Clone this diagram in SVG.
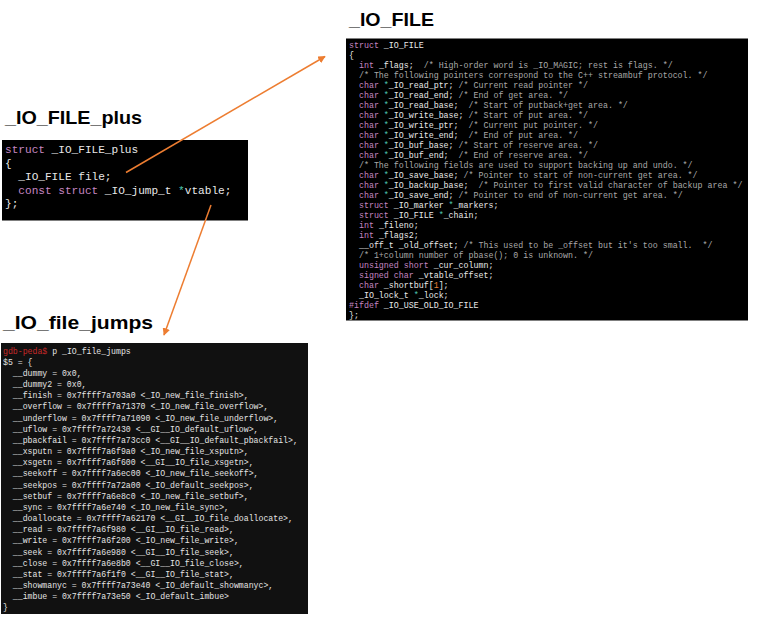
<svg xmlns="http://www.w3.org/2000/svg" width="757" height="620" viewBox="0 0 757 620">
<style>
.title{font-family:"Liberation Sans",Arial,sans-serif;font-weight:bold;font-size:18.5px;fill:#000}
.code{font-family:"Liberation Mono","DejaVu Sans Mono",monospace;white-space:pre}
.code text{white-space:pre}
.kw{fill:#c586c0}
.id{fill:#e8e8e8}
.cm{fill:#a9a9a9}
.pt{fill:#4ec9b0}
.num{fill:#e8833a}
.pr{fill:#c82828}
.conn{stroke:#ED7D31;stroke-width:1.5;fill:none}
</style>
<defs>
<marker id="ah" viewBox="0 0 10 10" refX="9" refY="5" markerWidth="5" markerHeight="5" orient="auto" markerUnits="strokeWidth">
<path d="M0,0 L10,5 L0,10 z" fill="#ED7D31"/>
</marker>
</defs>
<rect width="757" height="620" fill="#fff"/>

<g id="io_file">
<text class="title" x="349" y="26" textLength="85" lengthAdjust="spacingAndGlyphs">_IO_FILE</text>
<rect x="346" y="38.5" width="402" height="282" fill="#000"/>
<g class="code" font-size="8.3">
<text xml:space="preserve" x="349" y="48"><tspan class="kw">struct</tspan><tspan class="id"> _IO_FILE</tspan></text>
<text xml:space="preserve" x="349" y="58" class="id">{</text>
<text xml:space="preserve" x="349" y="68"><tspan class="kw">  int</tspan><tspan class="id"> _flags;</tspan><tspan class="cm">  /* High-order word is _IO_MAGIC; rest is flags. */</tspan></text>
<text xml:space="preserve" x="349" y="78" class="cm">  /* The following pointers correspond to the C++ streambuf protocol. */</text>
<text xml:space="preserve" x="349" y="88"><tspan class="kw">  char</tspan> <tspan class="pt">*</tspan><tspan class="id">_IO_read_ptr;</tspan><tspan class="cm"> /* Current read pointer */</tspan></text>
<text xml:space="preserve" x="349" y="98"><tspan class="kw">  char</tspan> <tspan class="pt">*</tspan><tspan class="id">_IO_read_end;</tspan><tspan class="cm"> /* End of get area. */</tspan></text>
<text xml:space="preserve" x="349" y="108"><tspan class="kw">  char</tspan> <tspan class="pt">*</tspan><tspan class="id">_IO_read_base;</tspan><tspan class="cm">  /* Start of putback+get area. */</tspan></text>
<text xml:space="preserve" x="349" y="118"><tspan class="kw">  char</tspan> <tspan class="pt">*</tspan><tspan class="id">_IO_write_base;</tspan><tspan class="cm"> /* Start of put area. */</tspan></text>
<text xml:space="preserve" x="349" y="128"><tspan class="kw">  char</tspan> <tspan class="pt">*</tspan><tspan class="id">_IO_write_ptr;</tspan><tspan class="cm">  /* Current put pointer. */</tspan></text>
<text xml:space="preserve" x="349" y="138"><tspan class="kw">  char</tspan> <tspan class="pt">*</tspan><tspan class="id">_IO_write_end;</tspan><tspan class="cm">  /* End of put area. */</tspan></text>
<text xml:space="preserve" x="349" y="148"><tspan class="kw">  char</tspan> <tspan class="pt">*</tspan><tspan class="id">_IO_buf_base;</tspan><tspan class="cm"> /* Start of reserve area. */</tspan></text>
<text xml:space="preserve" x="349" y="158"><tspan class="kw">  char</tspan> <tspan class="pt">*</tspan><tspan class="id">_IO_buf_end;</tspan><tspan class="cm">  /* End of reserve area. */</tspan></text>
<text xml:space="preserve" x="349" y="168" class="cm">  /* The following fields are used to support backing up and undo. */</text>
<text xml:space="preserve" x="349" y="178"><tspan class="kw">  char</tspan> <tspan class="pt">*</tspan><tspan class="id">_IO_save_base;</tspan><tspan class="cm"> /* Pointer to start of non-current get area. */</tspan></text>
<text xml:space="preserve" x="349" y="188"><tspan class="kw">  char</tspan> <tspan class="pt">*</tspan><tspan class="id">_IO_backup_base;</tspan><tspan class="cm">  /* Pointer to first valid character of backup area */</tspan></text>
<text xml:space="preserve" x="349" y="198"><tspan class="kw">  char</tspan> <tspan class="pt">*</tspan><tspan class="id">_IO_save_end;</tspan><tspan class="cm"> /* Pointer to end of non-current get area. */</tspan></text>
<text xml:space="preserve" x="349" y="208"><tspan class="kw">  struct</tspan><tspan class="id"> _IO_marker </tspan><tspan class="pt">*</tspan><tspan class="id">_markers;</tspan></text>
<text xml:space="preserve" x="349" y="218"><tspan class="kw">  struct</tspan><tspan class="id"> _IO_FILE </tspan><tspan class="pt">*</tspan><tspan class="id">_chain;</tspan></text>
<text xml:space="preserve" x="349" y="228"><tspan class="kw">  int</tspan><tspan class="id"> _fileno;</tspan></text>
<text xml:space="preserve" x="349" y="238"><tspan class="kw">  int</tspan><tspan class="id"> _flags2;</tspan></text>
<text xml:space="preserve" x="349" y="248"><tspan class="id">  __off_t _old_offset;</tspan><tspan class="cm"> /* This used to be _offset but it's too small.  */</tspan></text>
<text xml:space="preserve" x="349" y="258" class="cm">  /* 1+column number of pbase(); 0 is unknown. */</text>
<text xml:space="preserve" x="349" y="268"><tspan class="kw">  unsigned short</tspan><tspan class="id"> _cur_column;</tspan></text>
<text xml:space="preserve" x="349" y="278"><tspan class="kw">  signed char</tspan><tspan class="id"> _vtable_offset;</tspan></text>
<text xml:space="preserve" x="349" y="288"><tspan class="kw">  char</tspan><tspan class="id"> _shortbuf[</tspan><tspan class="num">1</tspan><tspan class="id">];</tspan></text>
<text xml:space="preserve" x="349" y="298"><tspan class="id">  _IO_lock_t </tspan><tspan class="pt">*</tspan><tspan class="id">_lock;</tspan></text>
<text xml:space="preserve" x="349" y="308"><tspan class="kw">#ifdef</tspan><tspan class="id"> _IO_USE_OLD_IO_FILE</tspan></text>
<text xml:space="preserve" x="349" y="318" class="id">};</text>
</g>
</g>

<g id="io_file_plus">
<text class="title" x="5" y="124" textLength="137" lengthAdjust="spacingAndGlyphs">_IO_FILE_plus</text>
<rect x="2" y="140" width="246" height="80.5" fill="#000"/>
<g class="code" font-size="11.1">
<text xml:space="preserve" x="5" y="153"><tspan class="kw">struct</tspan><tspan class="id"> _IO_FILE_plus</tspan></text>
<text xml:space="preserve" x="5" y="166.5" class="id">{</text>
<text xml:space="preserve" x="5" y="180" class="id">  _IO_FILE file;</text>
<text xml:space="preserve" x="5" y="193.5"><tspan class="kw">  const struct</tspan><tspan class="id"> _IO_jump_t </tspan><tspan class="pt">*</tspan><tspan class="id">vtable;</tspan></text>
<text xml:space="preserve" x="5" y="207" class="id">};</text>
</g>
</g>

<g id="io_file_jumps">
<text class="title" x="3" y="329" textLength="150" lengthAdjust="spacingAndGlyphs">_IO_file_jumps</text>
<rect x="1" y="343" width="307" height="271" fill="#111"/>
<g class="code" font-size="8.2" fill="#e4e4e4">
<text xml:space="preserve" x="3" y="353.5"><tspan class="pr">gdb-peda$</tspan> p _IO_file_jumps</text>
<text xml:space="preserve" x="3" y="364.7">$5 = {</text>
<text xml:space="preserve" x="3" y="375.8">  __dummy = 0x0,</text>
<text xml:space="preserve" x="3" y="387">  __dummy2 = 0x0,</text>
<text xml:space="preserve" x="3" y="398.2">  __finish = 0x7ffff7a703a0 &lt;_IO_new_file_finish&gt;,</text>
<text xml:space="preserve" x="3" y="409.3">  __overflow = 0x7ffff7a71370 &lt;_IO_new_file_overflow&gt;,</text>
<text xml:space="preserve" x="3" y="420.5">  __underflow = 0x7ffff7a71090 &lt;_IO_new_file_underflow&gt;,</text>
<text xml:space="preserve" x="3" y="431.7">  __uflow = 0x7ffff7a72430 &lt;__GI__IO_default_uflow&gt;,</text>
<text xml:space="preserve" x="3" y="442.9">  __pbackfail = 0x7ffff7a73cc0 &lt;__GI__IO_default_pbackfail&gt;,</text>
<text xml:space="preserve" x="3" y="454">  __xsputn = 0x7ffff7a6f9a0 &lt;_IO_new_file_xsputn&gt;,</text>
<text xml:space="preserve" x="3" y="465.2">  __xsgetn = 0x7ffff7a6f600 &lt;__GI__IO_file_xsgetn&gt;,</text>
<text xml:space="preserve" x="3" y="476.4">  __seekoff = 0x7ffff7a6ec00 &lt;_IO_new_file_seekoff&gt;,</text>
<text xml:space="preserve" x="3" y="487.5">  __seekpos = 0x7ffff7a72a00 &lt;_IO_default_seekpos&gt;,</text>
<text xml:space="preserve" x="3" y="498.7">  __setbuf = 0x7ffff7a6e8c0 &lt;_IO_new_file_setbuf&gt;,</text>
<text xml:space="preserve" x="3" y="509.9">  __sync = 0x7ffff7a6e740 &lt;_IO_new_file_sync&gt;,</text>
<text xml:space="preserve" x="3" y="521">  __doallocate = 0x7ffff7a62170 &lt;__GI__IO_file_doallocate&gt;,</text>
<text xml:space="preserve" x="3" y="532.2">  __read = 0x7ffff7a6f980 &lt;__GI__IO_file_read&gt;,</text>
<text xml:space="preserve" x="3" y="543.4">  __write = 0x7ffff7a6f200 &lt;_IO_new_file_write&gt;,</text>
<text xml:space="preserve" x="3" y="554.5">  __seek = 0x7ffff7a6e980 &lt;__GI__IO_file_seek&gt;,</text>
<text xml:space="preserve" x="3" y="565.7">  __close = 0x7ffff7a6e8b0 &lt;__GI__IO_file_close&gt;,</text>
<text xml:space="preserve" x="3" y="576.9">  __stat = 0x7ffff7a6f1f0 &lt;__GI__IO_file_stat&gt;,</text>
<text xml:space="preserve" x="3" y="588">  __showmanyc = 0x7ffff7a73e40 &lt;_IO_default_showmanyc&gt;,</text>
<text xml:space="preserve" x="3" y="599.2">  __imbue = 0x7ffff7a73e50 &lt;_IO_default_imbue&gt;</text>
<text xml:space="preserve" x="3" y="610.4">}</text>
</g>
</g>

<g id="connectors">
<line class="conn" x1="126" y1="172.5" x2="325" y2="56.5" marker-end="url(#ah)"/>
<line class="conn" x1="211" y1="205" x2="164" y2="335" marker-end="url(#ah)"/>
</g>
</svg>
